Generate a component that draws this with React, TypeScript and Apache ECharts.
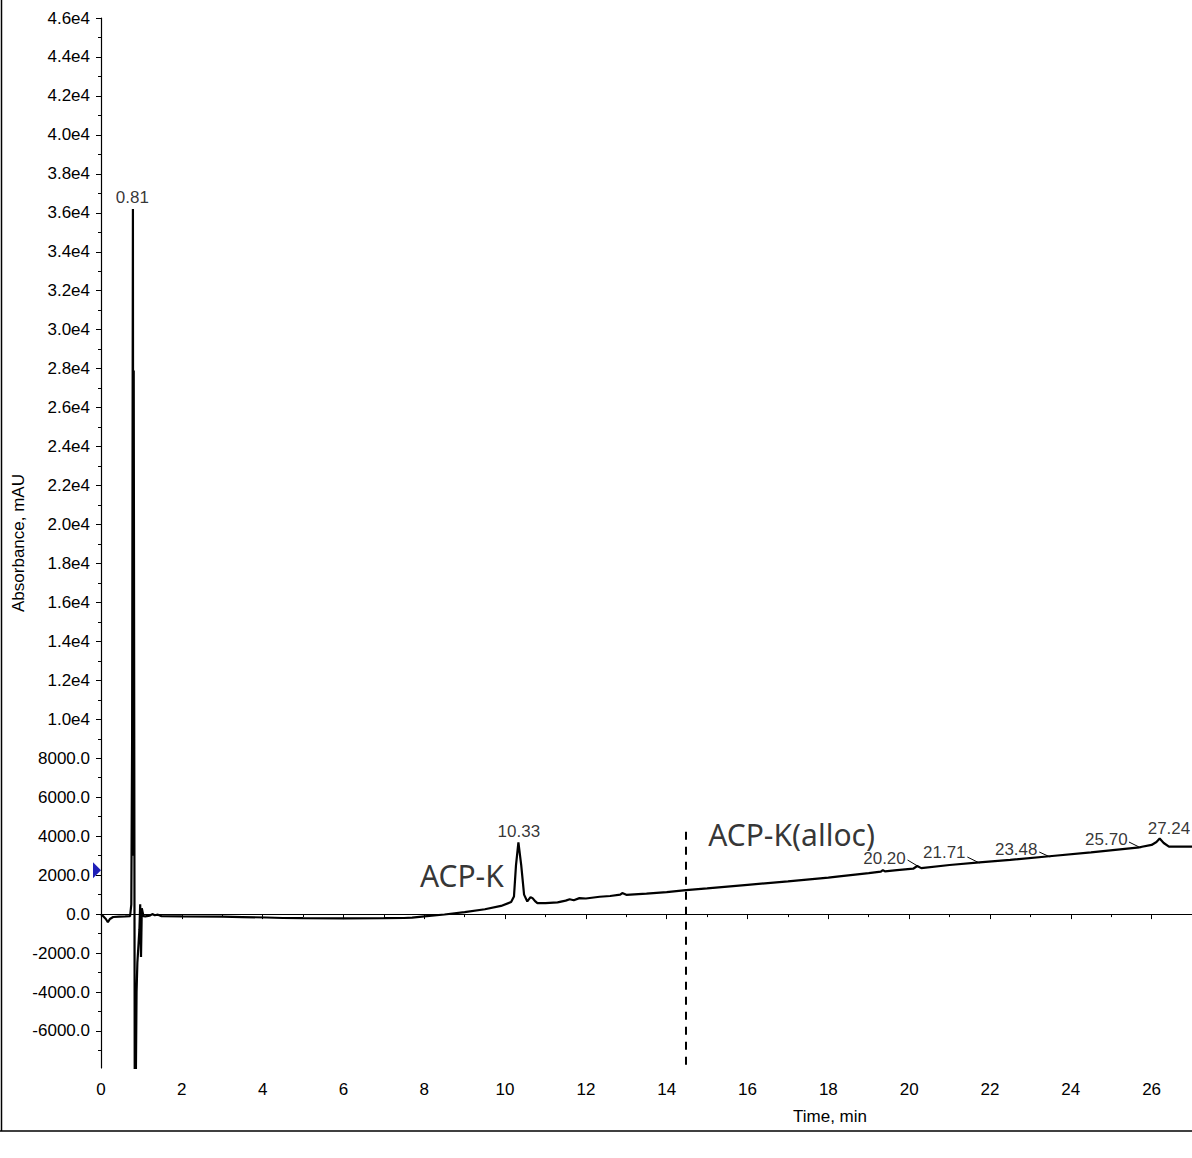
import React, { useEffect, useRef } from "react";
import * as echarts from "echarts";

// Chromatogram trace (time in min, absorbance in mAU)
const times = [
  0.0, 0.05, 0.12, 0.17, 0.22, 0.3, 0.45, 0.6, 0.72, 0.75, 0.77, 0.79, 0.8, 0.81, 0.835, 0.85, 0.86, 0.88, 0.9,
  0.93, 0.95, 0.97, 0.99, 1.01, 1.05, 1.1, 1.2, 1.27, 1.33, 1.41, 1.5, 2.0, 3.0, 3.5, 4.1, 4.5, 5.0, 6.0, 7.0,
  7.5, 7.7, 8.0, 8.5, 9.0, 9.5, 9.9, 10.15, 10.22, 10.27, 10.33, 10.4, 10.47, 10.55, 10.63, 10.68, 10.75, 10.8,
  11.0, 11.3, 11.5, 11.6, 11.7, 11.84, 12.0, 12.34, 12.6, 12.85, 12.9, 13.0, 13.5, 14.0, 14.48, 15.0, 16.0,
  17.0, 18.0, 18.27, 19.0, 19.3, 19.35, 19.4, 19.7, 20.1, 20.2, 20.3, 21.0, 21.74, 22.5, 23.47, 24.5, 25.7,
  26.0, 26.12, 26.2, 26.3, 26.43, 27.0,
];
const absorbance = [
  -50, -100, -250, -420, -250, -150, -130, -120, -110, 500, 9000, 36200, 3000, 27900, -9000, -6000, -9000, -4000,
  -2500, -1500, -800, 500, -2200, 300, -100, -120, -80, 0, -60, -30, -110, -120, -130, -150, -175, -200, -210,
  -215, -210, -200, -180, -120, -20, 100, 250, 420, 620, 900, 2500, 3680, 2500, 1000, 650, 870, 820, 650, 560,
  560, 600, 690, 760, 710, 820, 800, 890, 930, 1000, 1080, 990, 1050, 1130, 1230, 1320, 1500, 1680, 1870, 1940,
  2100, 2180, 2260, 2190, 2260, 2330, 2470, 2360, 2520, 2660, 2780, 2970, 3170, 3430, 3550, 3700, 3880, 3650,
  3460, 3460,
];

// Axis ticks and labels
const yLabelValues = [
  -6000, -4000, -2000, 0, 2000, 4000, 6000, 8000, 10000, 12000, 14000, 16000, 18000, 20000, 22000, 24000, 26000,
  28000, 30000, 32000, 34000, 36000, 38000, 40000, 42000, 44000, 46000,
];
const yMinorTickValues = [
  -7000, -5000, -3000, -1000, 1000, 3000, 5000, 7000, 9000, 11000, 13000, 15000, 17000, 19000, 21000, 23000,
  25000, 27000, 29000, 31000, 33000, 35000, 37000, 39000, 41000, 43000, 45000,
];
const xLabelValues = [0, 2, 4, 6, 8, 10, 12, 14, 16, 18, 20, 22, 24, 26];
const xMinorTickValues = [1, 3, 5, 7, 9, 11, 13, 15, 17, 19, 21, 23, 25];
const yMin = -7900;
const yMax = 46000;
const xMin = 0;
const xMax = 27;

// Peak labels (text, anchor time, anchor value)
const peakLabels = ["0.81", "10.33", "20.20", "21.71", "23.48", "25.70", "27.24"];
const peakLabelTimes = [0.775, 10.34, 19.39, 20.87, 22.65, 24.88, 26.43];
const peakLabelValues = [36761, 4230, 2880, 3137, 3342, 3855, 4369];

// Leader lines from labels to peaks
const leaderStartTimes = [19.96, 21.44, 23.22, 25.44];
const leaderStartValues = [2777, 2931, 3188, 3701];
const leaderEndTimes = [20.25, 21.74, 23.49, 25.74];
const leaderEndValues = [2418, 2623, 2931, 3393];

// Compound annotations
const compoundNames = ["ACP-K", "ACP-K(alloc)"];
const compoundTimes = [8.93, 17.09];
const compoundValues = [1961, 4112];

// Dashed cut line
const cutTime = 14.48;
const cutTopValue = 4230;

// Blue marker on the y axis
const markerValue = 2250;

const tickFont = "Liberation Sans, Arial, sans-serif";

export default function App() {
  const ref = useRef<HTMLDivElement>(null);

  useEffect(() => {
    if (!ref.current) return;
    const chart = echarts.init(ref.current, null, { renderer: "svg" });

    const trace = times.map((t, i) => [t, absorbance[i]]);
    const labelData = peakLabels.map((txt, i) => [peakLabelTimes[i], peakLabelValues[i], txt]);
    const compoundData = compoundNames.map((txt, i) => [compoundTimes[i], compoundValues[i], txt]);
    const leaders = leaderStartTimes.map((t, i) => [
      { coord: [t, leaderStartValues[i]] },
      { coord: [leaderEndTimes[i], leaderEndValues[i]] },
    ]);

    const yFmt = (v: number) =>
      Math.abs(v) >= 10000 ? (v / 10000).toFixed(1) + "e4" : v.toFixed(1);

    chart.setOption({
      animation: false,
      backgroundColor: "#ffffff",
      grid: { left: 101, right: 0, top: 18, bottom: 90, containLabel: false },
      xAxis: [
        {
          type: "value",
          min: xMin,
          max: xMax,
          position: "bottom",
          axisLine: { show: true, lineStyle: { color: "#000", width: 1.2 } },
          axisTick: { show: true, customValues: xLabelValues, length: 5, lineStyle: { color: "#000" } },
          axisLabel: {
            show: true,
            customValues: xLabelValues,
            fontSize: 17,
            fontFamily: tickFont,
            color: "#000",
            margin: 13,
          },
          splitLine: { show: false },
        },
        {
          type: "value",
          min: xMin,
          max: xMax,
          position: "bottom",
          axisLine: { show: false },
          axisTick: { show: true, customValues: xMinorTickValues, length: 3, lineStyle: { color: "#000" } },
          axisLabel: { show: false },
          splitLine: { show: false },
        },
      ],
      yAxis: [
        {
          type: "value",
          min: yMin,
          max: yMax,
          position: "left",
          axisLine: { show: true, lineStyle: { color: "#000", width: 1.2 } },
          axisTick: { show: true, customValues: yLabelValues, length: 5, lineStyle: { color: "#000" } },
          axisLabel: {
            show: true,
            customValues: yLabelValues,
            formatter: yFmt,
            fontSize: 17,
            fontFamily: tickFont,
            color: "#000",
            margin: 11,
          },
          splitLine: { show: false },
        },
        {
          type: "value",
          min: yMin,
          max: yMax,
          position: "left",
          offset: 0,
          axisLine: { show: false },
          axisTick: { show: true, customValues: yMinorTickValues, length: 3, lineStyle: { color: "#000" } },
          axisLabel: { show: false },
          splitLine: { show: false },
        },
      ],
      series: [
        {
          type: "line",
          data: trace,
          symbol: "none",
          clip: true,
          lineStyle: { color: "#000", width: 2.2 },
          z: 3,
          markLine: {
            silent: true,
            symbol: ["none", "none"],
            label: { show: false },
            lineStyle: { color: "#000", width: 2, type: [8, 7] },
            data: [[{ coord: [cutTime, cutTopValue] }, { coord: [cutTime, yMin] }]],
          },
        },
        {
          type: "line",
          data: [],
          symbol: "none",
          markLine: {
            silent: true,
            symbol: ["none", "none"],
            label: { show: false },
            lineStyle: { color: "#000", width: 1, type: "solid" },
            data: leaders,
          },
        },
        {
          type: "scatter",
          data: labelData,
          symbolSize: 0,
          silent: true,
          z: 5,
          label: {
            show: true,
            position: "inside",
            formatter: (p: any) => p.data[2],
            fontSize: 17,
            fontFamily: tickFont,
            color: "#000",
          },
        },
        {
          type: "scatter",
          data: compoundData,
          symbolSize: 0,
          silent: true,
          z: 5,
          label: {
            show: true,
            position: "inside",
            formatter: (p: any) => p.data[2],
            fontSize: 30,
            fontFamily: "'Noto Sans', 'Open Sans', sans-serif",
            color: "#000",
          },
        },
      ],
    });

    const mp = chart.convertToPixel({ gridIndex: 0 }, [xMin, markerValue]) as number[];
    const my = mp[1];
    const axisX = mp[0];

    chart.setOption({
      graphic: [
        {
          type: "polygon",
          shape: { points: [[axisX - 8, my - 8], [axisX, my], [axisX - 8, my + 8]] },
          style: { fill: "#1f1fb8" },
          z: 10,
        },
        {
          type: "text",
          x: 18,
          y: 543,
          rotation: Math.PI / 2,
          style: {
            text: "Absorbance, mAU",
            fontSize: 17,
            fontFamily: tickFont,
            fill: "#000",
            align: "center",
            verticalAlign: "middle",
          },
        },
        {
          type: "text",
          x: 830,
          y: 1116,
          style: {
            text: "Time, min",
            fontSize: 17,
            fontFamily: tickFont,
            fill: "#000",
            align: "center",
            verticalAlign: "middle",
          },
        },
        {
          type: "line",
          shape: { x1: 1.5, y1: 0, x2: 1.5, y2: 1131 },
          style: { stroke: "#000", lineWidth: 1.5 },
        },
        {
          type: "line",
          shape: { x1: 0, y1: 1131, x2: 1192, y2: 1131 },
          style: { stroke: "#000", lineWidth: 1.5 },
        },
      ],
    });

    return () => chart.dispose();
  }, []);

  return (
    <div
      ref={ref}
      style={{ position: "absolute", left: 0, top: 0, width: 1192, height: 1158, background: "#fff" }}
    />
  );
}
